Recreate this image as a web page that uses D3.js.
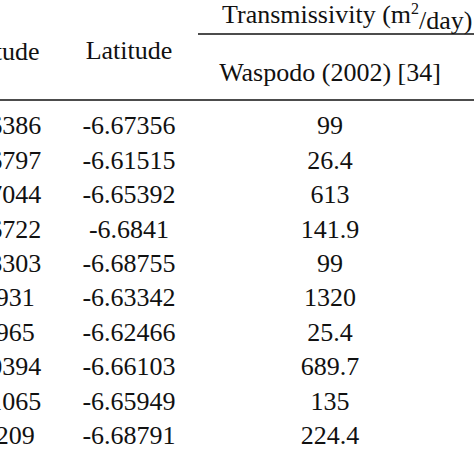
<!DOCTYPE html>
<html><head><meta charset="utf-8">
<script src="https://cdn.jsdelivr.net/npm/d3@7"></script>
<style>body{margin:0;background:#fff}svg{display:block}</style></head>
<body><svg id="c" width="474" height="474"></svg>
<script>
const longitude = ["106.66386","106.66797","106.67044","106.66722","106.68303","106.6931","106.6965","106.70394","106.71065","106.7209"];
const latitude = ["-6.67356","-6.61515","-6.65392","-6.6841","-6.68755","-6.63342","-6.62466","-6.66103","-6.65949","-6.68791"];
const transmissivity = ["99","26.4","613","141.9","99","1320","25.4","689.7","135","224.4"];
const headers = {lon:"Longitude", lat:"Latitude", sub:"Waspodo (2002) [34]"};

const svg = d3.select("#c");
const font = "'Liberation Serif','Times New Roman',serif";
const fs = 26;
const y = d3.scaleBand().domain(d3.range(latitude.length)).range([108, 452]);
const cols = [{x:-14,data:longitude},{x:129,data:latitude},{x:330,data:transmissivity}];
cols.forEach(c=>{
  svg.append("g").selectAll("text").data(c.data).join("text")
    .attr("x",c.x).attr("y",(d,i)=>y(i)+y.bandwidth()/2).attr("dy","0.35em")
    .attr("text-anchor","middle").attr("font-family",font).attr("font-size",fs).attr("fill","#111")
    .text(d=>d);
});
const t=(x,yy,txt)=>svg.append("text").attr("x",x).attr("y",yy).attr("dy","0.35em").attr("text-anchor","middle")
  .attr("font-family",font).attr("font-size",fs).attr("fill","#111").text(txt);
t(-14,51,headers.lon);
t(129,50,headers.lat);
const g=svg.append("text").attr("x",222).attr("y",14).attr("dy","0.35em").attr("text-anchor","start")
  .attr("font-family",font).attr("font-size",fs).attr("fill","#111");
g.append("tspan").text("Transmissivity (m");
g.append("tspan").attr("font-size",16).attr("dy","-0.55em").text("2");
g.append("tspan").attr("dy","0.55em").text("/day)");
t(330,72,headers.sub);
svg.append("line").attr("x1",198).attr("x2",474).attr("y1",34).attr("y2",34).attr("stroke","#111").attr("stroke-width",1.5);
svg.append("line").attr("x1",0).attr("x2",474).attr("y1",100).attr("y2",100).attr("stroke","#111").attr("stroke-width",1.5);
</script></body></html>
